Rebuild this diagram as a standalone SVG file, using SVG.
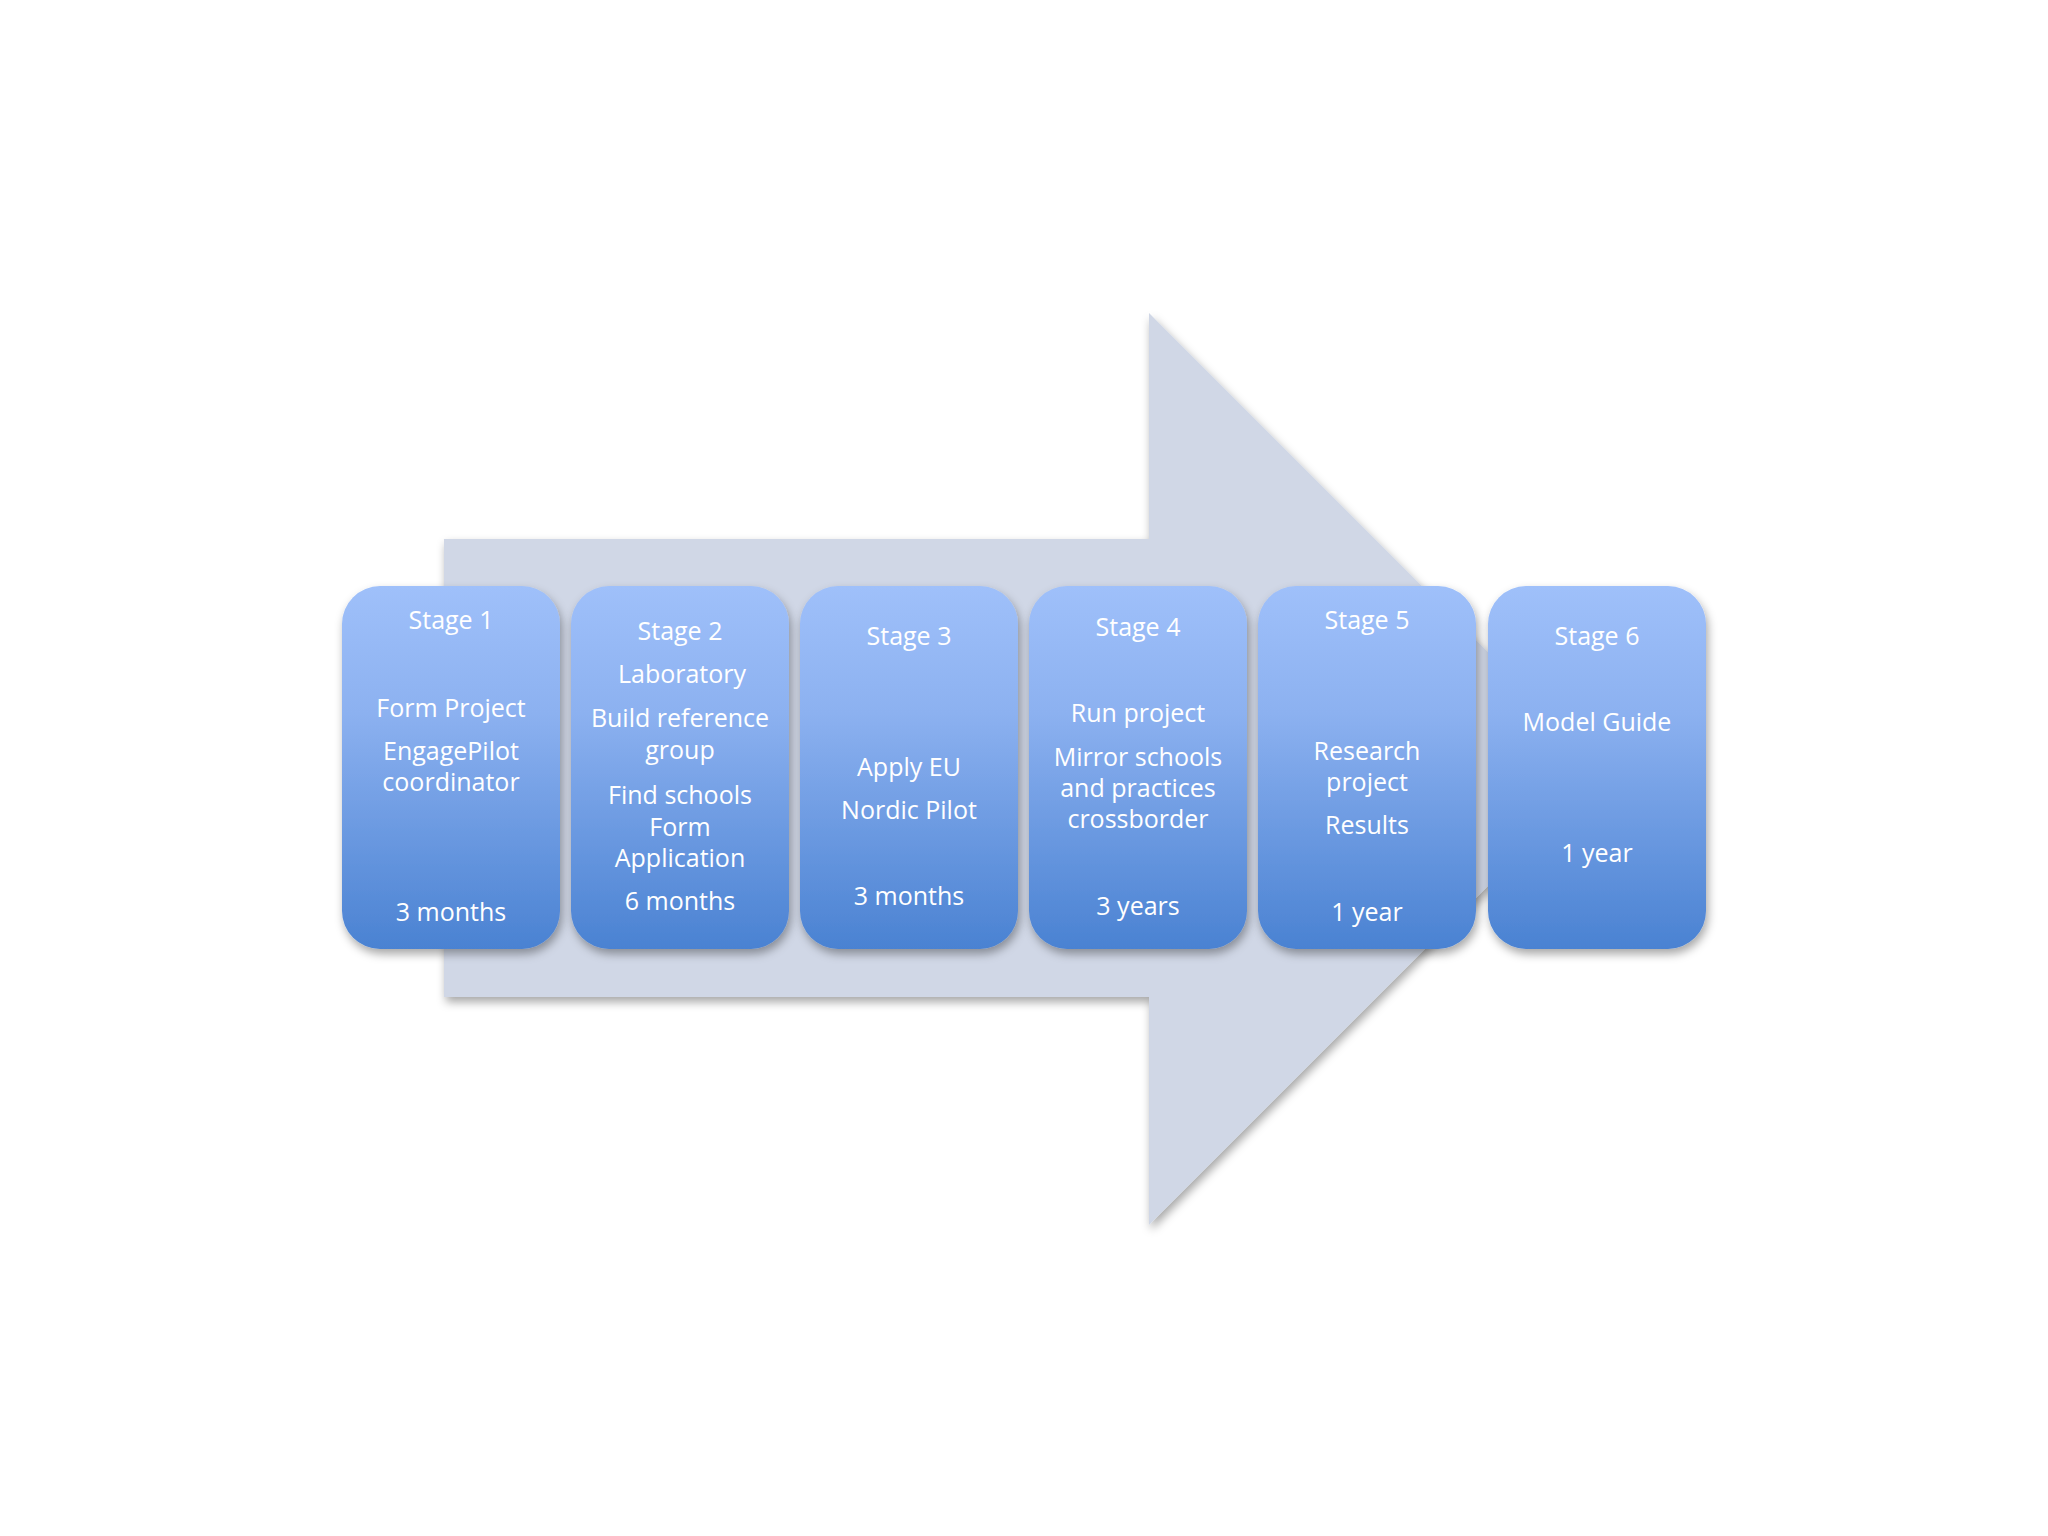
<svg xmlns="http://www.w3.org/2000/svg" width="2048" height="1536" viewBox="0 0 2048 1536">
<defs>
<linearGradient id="g" x1="0" y1="0" x2="0" y2="1">
<stop offset="0" stop-color="#9fc0fa"/><stop offset="0.35" stop-color="#8cb1f0"/><stop offset="1" stop-color="#4a82d2"/>
</linearGradient>
<filter id="sh" x="-20%" y="-20%" width="140%" height="140%"><feDropShadow dx="2" dy="5" stdDeviation="5" flood-color="#000" flood-opacity="0.35"/></filter>
</defs>
<style>
.b{fill:url(#g);filter:url(#sh)}
text{font-family:"Open Sans","Noto Sans",sans-serif;font-size:25px;fill:#fff;text-anchor:middle}
</style>
<rect width="2048" height="1536" fill="#fff"/>
<g id="connectors">
<polygon points="444,539 1149,539 1149,313 1605,769 1149,1225 1149,997 444,997" fill="#d0d7e6" filter="url(#sh)"/>
</g>
<g id="s1"><rect class="b" x="342" y="586" width="218" height="363" rx="38"/>
<text x="451" y="629">Stage 1</text><text x="451" y="717">Form Project</text><text x="451" y="760">EngagePilot</text><text x="451" y="791">coordinator</text><text x="451" y="921">3 months</text></g>
<g id="s2"><rect class="b" x="571" y="586" width="218" height="363" rx="38"/>
<text x="680" y="640">Stage 2</text><text x="682" y="683">Laboratory</text><text x="680" y="727">Build reference</text><text x="680" y="759">group</text><text x="680" y="804">Find schools</text><text x="680" y="836">Form</text><text x="680" y="867">Application</text><text x="680" y="910">6 months</text></g>
<g id="s3"><rect class="b" x="800" y="586" width="218" height="363" rx="38"/>
<text x="909" y="645">Stage 3</text><text x="909" y="776">Apply EU</text><text x="909" y="819">Nordic Pilot</text><text x="909" y="905">3 months</text></g>
<g id="s4"><rect class="b" x="1029" y="586" width="218" height="363" rx="38"/>
<text x="1138" y="636">Stage 4</text><text x="1138" y="722">Run project</text><text x="1138" y="766">Mirror schools</text><text x="1138" y="797">and practices</text><text x="1138" y="828">crossborder</text><text x="1138" y="915">3 years</text></g>
<g id="s5"><rect class="b" x="1258" y="586" width="218" height="363" rx="38"/>
<text x="1367" y="629">Stage 5</text><text x="1367" y="760">Research</text><text x="1367" y="791">project</text><text x="1367" y="834">Results</text><text x="1367" y="921">1 year</text></g>
<g id="s6"><rect class="b" x="1488" y="586" width="218" height="363" rx="38"/>
<text x="1597" y="645">Stage 6</text><text x="1597" y="731">Model Guide</text><text x="1597" y="862">1 year</text></g>
</svg>
